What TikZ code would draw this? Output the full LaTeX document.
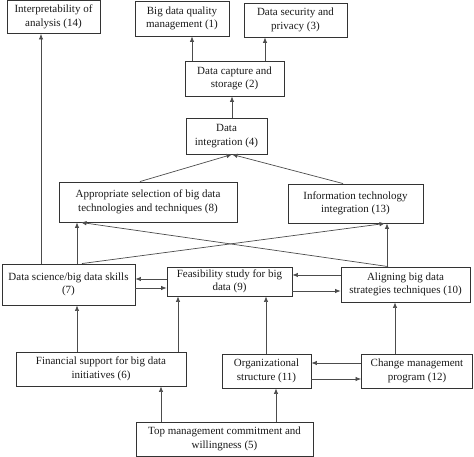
\documentclass[tikz,border=0pt]{standalone}
\usepackage{fontspec}
\setmainfont{Liberation Serif}
\usetikzlibrary{arrows.meta}
\begin{document}
\begin{tikzpicture}[x=1pt,y=-1pt,
  box/.style={draw=black!80, line width=0.9pt, align=center, inner sep=1pt,
    font=\fontsize{11}{13.5}\selectfont, text=black!90},
  arr/.style={draw=black!70, line width=0.7pt, -{Latex[length=5.5pt,width=4.5pt]}}]
\useasboundingbox (0,0) rectangle (474,457);
\node[box, minimum width=93pt, minimum height=33pt] (n14) at (53.5,17) {Interpretability of\\analysis (14)};
\node[box, minimum width=94pt, minimum height=35pt] (n1) at (182,18.5) {Big data quality\\management (1)};
\node[box, minimum width=103pt, minimum height=34pt] (n3) at (295.5,20) {Data security and\\privacy (3)};
\node[box, minimum width=99pt, minimum height=35pt] (n2) at (234.5,78.5) {Data capture and\\storage (2)};
\node[box, minimum width=81pt, minimum height=36pt] (n4) at (226.5,136) {Data\\integration (4)};
\node[box, minimum width=178pt, minimum height=40pt] (n8) at (148,202) {Appropriate selection of big data\\technologies and techniques (8)};
\node[box, minimum width=135pt, minimum height=39pt] (n13) at (355.5,203.5) {Information technology\\integration (13)};
\node[box, minimum width=133pt, minimum height=41pt] (n7) at (68.5,284.5) {Data science/big data skills\\(7)};
\node[box, minimum width=125pt, minimum height=29pt, inner sep=0pt] (n9) at (229.5,281.5) {Feasibility study for big\\data (9)};
\node[box, minimum width=129pt, minimum height=35pt] (n10) at (405.5,284.5) {Aligning big data\\strategies techniques (10)};
\node[box, minimum width=170pt, minimum height=34pt] (n6) at (101,369) {Financial support for big data\\initiatives (6)};
\node[box, minimum width=89pt, minimum height=34pt] (n11) at (266.5,371) {Organizational\\structure (11)};
\node[box, minimum width=111pt, minimum height=34pt] (n12) at (417,371) {Change management\\program (12)};
\node[box, minimum width=177pt, minimum height=34pt] (n5) at (224.5,439) {Top management commitment and\\willingness (5)};

\draw[arr] ([xshift=-27.5pt]n7.north) -- ([xshift=-12.5pt]n14.south);
\draw[arr] ([xshift=-42.5pt]n2.north) -- ([xshift=10pt]n1.south);
\draw[arr] ([xshift=30.5pt]n2.north) -- ([xshift=-30.5pt]n3.south);
\draw[arr] ([xshift=5.5pt]n4.north) -- ([xshift=-2.5pt]n2.south);
\draw[arr] ([xshift=-8pt]n8.north) -- ([xshift=5.5pt]n4.south);
\draw[arr] ([xshift=-12.5pt]n13.north) -- ([xshift=5.5pt]n4.south);
\draw[arr] ([xshift=8.5pt]n7.north) -- ([xshift=-71pt]n8.south);
\draw[arr] ([xshift=-18.5pt]n10.north) -- ([xshift=31.5pt]n13.south);
\draw[arr] ([xshift=13.5pt]n7.north) -- ([xshift=29.5pt]n13.south);
\draw[arr] ([xshift=-17.5pt]n10.north) -- ([xshift=-67pt]n8.south);
\draw[arr] ([yshift=2.5pt]n9.west) -- ([yshift=5.5pt]n7.east);
\draw[arr] ([yshift=-3.5pt]n7.east) -- ([yshift=-6.5pt]n9.west);
\draw[arr] ([yshift=9.5pt]n10.west) -- ([yshift=6.5pt]n9.east);
\draw[arr] ([yshift=-9.5pt]n9.east) -- ([yshift=-6.5pt]n10.west);
\draw[arr] ([xshift=-24pt]n6.north) -- ([xshift=8.5pt]n7.south);
\draw[arr] ([xshift=77pt]n6.north) -- ([xshift=-51.5pt]n9.south);
\draw[arr] ([xshift=-0.5pt]n11.north) -- ([xshift=36.5pt]n9.south);
\draw[arr] ([xshift=-22pt]n12.north) -- ([xshift=-10.5pt]n10.south);
\draw[arr] ([yshift=8pt]n12.west) -- ([yshift=8pt]n11.east);
\draw[arr] ([yshift=-8pt]n11.east) -- ([yshift=-8pt]n12.west);
\draw[arr] ([xshift=-63.5pt]n5.north) -- ([xshift=60pt]n6.south);
\draw[arr] ([xshift=51.5pt]n5.north) -- ([xshift=9.5pt]n11.south);
\end{tikzpicture}
\end{document}
